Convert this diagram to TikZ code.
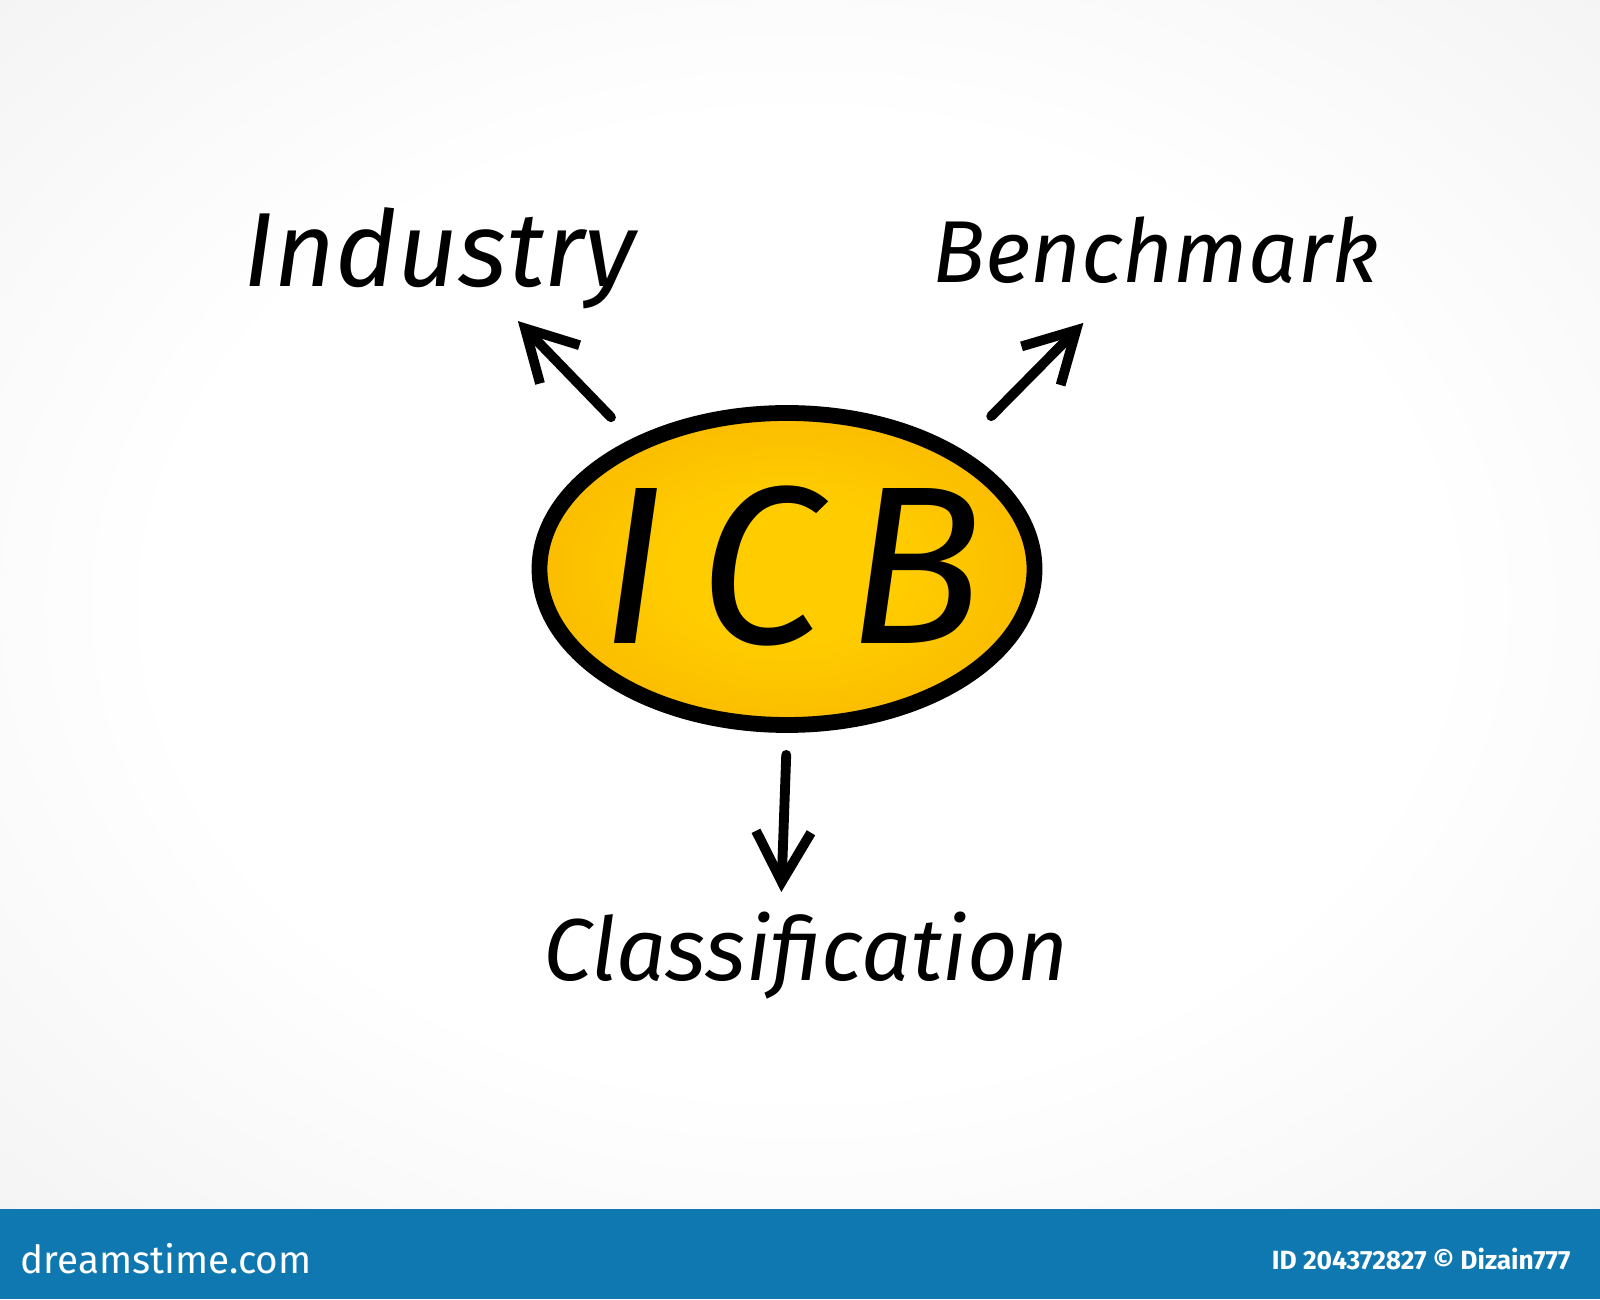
\documentclass[tikz,border=0pt]{standalone}
\usepackage{fontspec}
\setmainfont{Fira Sans}
\usetikzlibrary{arrows.meta,shapes.geometric}
\definecolor{icbyellow}{HTML}{FFCC00}
\definecolor{icborange}{HTML}{F2A000}
\definecolor{bggray}{HTML}{EAEAEC}
\definecolor{barblue}{HTML}{0F78B0}
\pgfdeclareradialshading{bgshade}{\pgfpointorigin}{color(0bp)=(white); color(20bp)=(white); color(50bp)=(bggray)}
\pgfdeclareradialshading{icbshade}{\pgfpointorigin}{color(0bp)=(icbyellow); color(12bp)=(icbyellow); color(50bp)=(icborange)}
\tikzset{
	word/.style={font=\fontsize{25}{30}\selectfont\itshape},
	pointer/.style={line width=2.8pt, line cap=round, -{Straight Barb[length=5mm,width=5.5mm,line width=2.8pt]}},
}
\begin{document}
\begin{tikzpicture}
		\useasboundingbox (0,0) rectangle (16,12.99);
		\shade[shading=bgshade] (0,0.9) rectangle (16,12.99);
		\fill[barblue] (0,0) rectangle (16,0.9);
		\node[draw, ellipse, line width=4.5pt, shading=icbshade, minimum width=4.95cm, minimum height=3.12cm] (icb) at (7.87,7.30) {};
		\node[font=\fontsize{64}{64}\selectfont\itshape] (icbtext) at (7.92,7.33) {I\kern9pt C\kern7pt B};
		\node[word, font=\fontsize{30}{34}\selectfont\itshape] (industry) at (4.40,10.41) {Industry};
		\node[word] (benchmark) at (11.56,10.49) {Benchmark};
		\node[word] (classification) at (8.06,3.43) {Classification};
		\draw[pointer, shorten <=0.3cm] (icb.140) -- (industry.-39);
		\draw[pointer, shorten <=0.45cm, shorten >=0.38cm] (icb.35) -- (benchmark.-135);
		\draw[pointer, shorten <=0.22cm, shorten >=0.08cm] (icb.south) -- (classification.114);
		\node[white, inner sep=0, anchor=west, font=\fontsize{11}{12}\selectfont] (site) at (0.20,0.40) {dreamstime.com};
		\node[white, inner sep=0, anchor=east, font=\fontsize{7.5}{9}\selectfont\bfseries] (credit) at (15.71,0.40) {ID 204372827 © Dizain777};
	\end{tikzpicture}
\end{document}
